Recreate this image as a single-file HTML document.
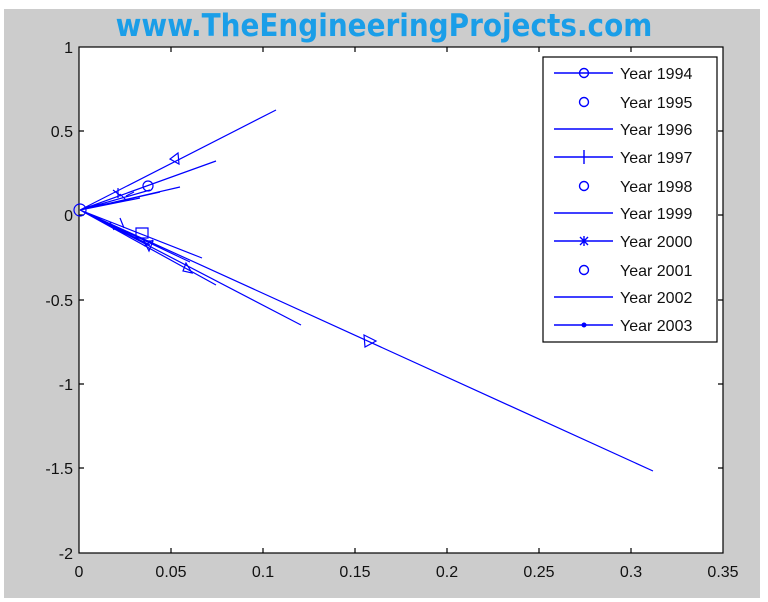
<!DOCTYPE html>
<html><head><style>body{margin:0;background:#fff}svg{display:block}text{font-family:"Liberation Sans",Arial,sans-serif}</style></head>
<body>
<svg width="768" height="602" xmlns="http://www.w3.org/2000/svg">
<rect x="4" y="9" width="756" height="589" fill="#cccccc"/>
<rect x="79" y="47" width="644" height="506" fill="#fff" stroke="#000" stroke-width="1.2"/>
<text x="384" y="36" text-anchor="middle" font-size="31" font-weight="bold" fill="#1a9ee8" style="font-family:'DejaVu Sans Condensed','Liberation Sans',sans-serif">www.TheEngineeringProjects.com</text>
<g stroke="#000" stroke-width="1.2">
<path d="M171 47v5M263 47v5M355 47v5M447 47v5M539 47v5M631 47v5M171 553v-5M263 553v-5M355 553v-5M447 553v-5M539 553v-5M631 553v-5"/>
<path d="M79 131h5M79 215h5M79 300h5M79 384h5M79 468h5M723 131h-5M723 215h-5M723 300h-5M723 384h-5M723 468h-5"/>
</g>
<g font-size="16" fill="#111" text-anchor="end">
<text x="73" y="53">1</text><text x="73" y="137">0.5</text><text x="73" y="221">0</text><text x="73" y="306">-0.5</text><text x="73" y="390">-1</text><text x="73" y="474">-1.5</text><text x="73" y="559">-2</text>
</g>
<g font-size="16" fill="#111" text-anchor="middle">
<text x="79" y="577">0</text><text x="171" y="577">0.05</text><text x="263" y="577">0.1</text><text x="355" y="577">0.15</text><text x="447" y="577">0.2</text><text x="539" y="577">0.25</text><text x="631" y="577">0.3</text><text x="723" y="577">0.35</text>
</g>
<g stroke="#0000ff" stroke-width="1.2" fill="none">
<path d="M80 210L276 110M80 210L216 161M80 210L180 187M80 210L160 192M80 210L150 190M80 210L140 198"/>
<path d="M80 210L653 471M80 210L301 325M80 210L216 285M80 210L202 258M80 210L190 262M80 210L150 245M80 210L140 240"/>
<circle cx="80" cy="210" r="6"/>
<circle cx="148" cy="186" r="5"/>
<path d="M178 153l-8 6l9 5z"/>
<path d="M364 335l12 6l-11 6z"/>
<path d="M136 228h12v10h-12zM144 241h9l-4 10z"/>
<path d="M144 246l9 -6"/>
<path d="M186 263l6 10l-9 -2z"/>
<path d="M113 190l8 6M118 188v10M120 218l4 10M126 196l8 -4M110 222l4 8M120 194l6 6"/>
</g>
<rect x="543" y="57" width="174" height="285" fill="#fff" stroke="#000" stroke-width="1.2"/>
<g stroke="#0000ff" stroke-width="1.4" fill="none">
<path d="M554 73h59M554 129h59M554 157h59M554 213h59M554 241h59M554 297h59M554 325h59"/>
<circle cx="584" cy="73" r="4.5"/><circle cx="584" cy="102" r="4.5"/><circle cx="584" cy="186" r="4.5"/><circle cx="584" cy="270" r="4.5"/>
<path d="M584 150v14M580 237l8 8M588 237l-8 8M584 236v10"/>
</g>
<circle cx="584" cy="325" r="2.5" fill="#0000ff"/>
<g font-size="16" fill="#111">
<text x="620" y="79">Year 1994</text><text x="620" y="108">Year 1995</text><text x="620" y="135">Year 1996</text><text x="620" y="163">Year 1997</text><text x="620" y="192">Year 1998</text><text x="620" y="219">Year 1999</text><text x="620" y="247">Year 2000</text><text x="620" y="276">Year 2001</text><text x="620" y="303">Year 2002</text><text x="620" y="331">Year 2003</text>
</g>
</svg>
</body></html>
